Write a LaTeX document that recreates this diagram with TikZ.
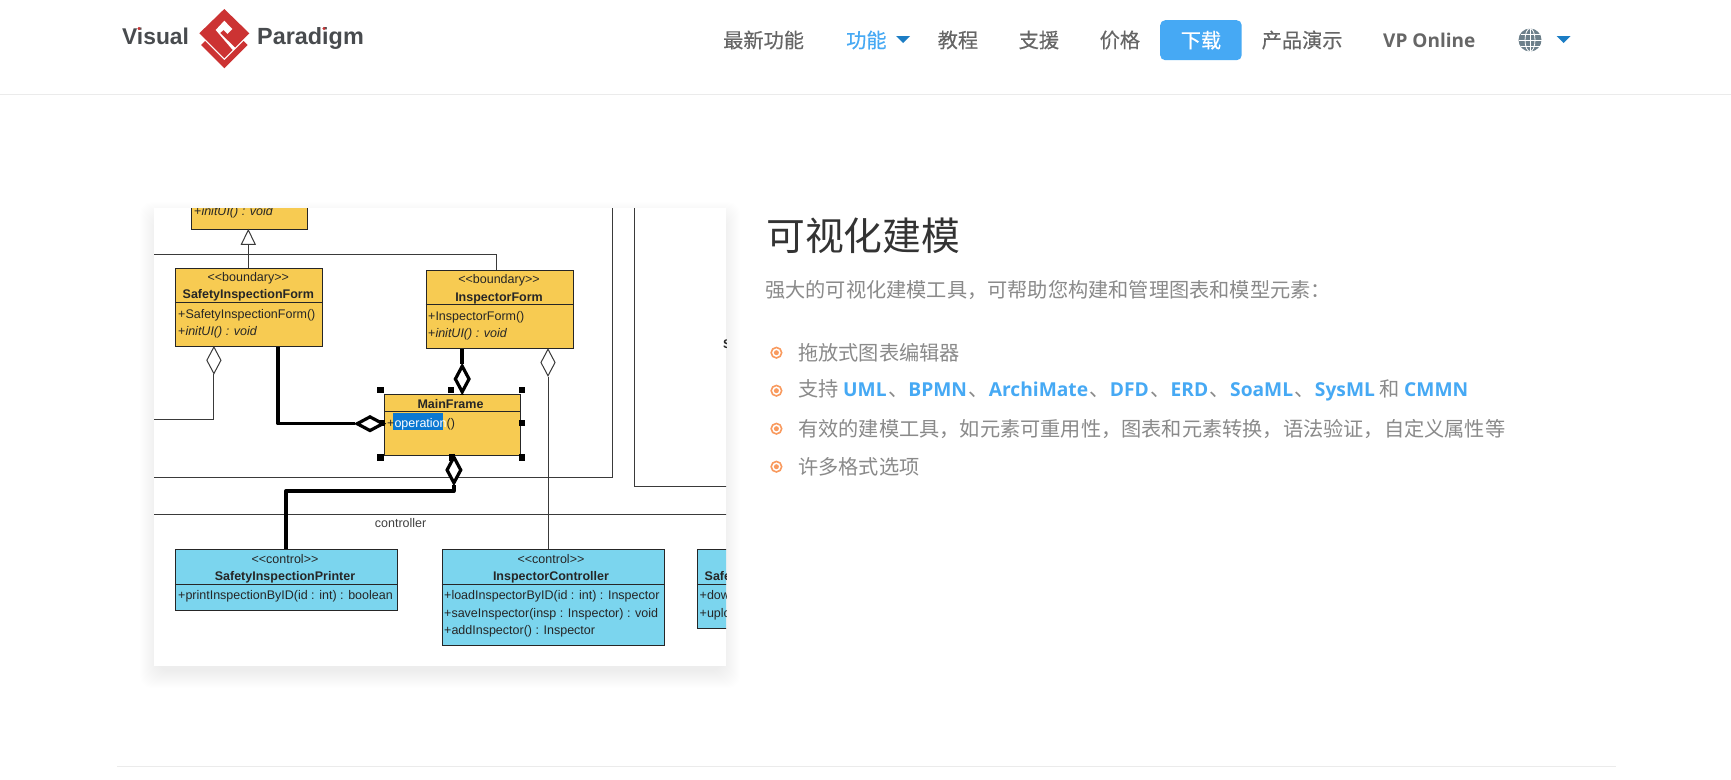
\documentclass[tikz,border=0pt]{standalone}
\usepackage{fontspec}
\setmainfont{Liberation Sans}
\newfontfamily\cjk{Noto Sans CJK SC}
\newfontfamily\cjknav{Noto Sans CJK SC}[FakeBold=0.35]
\newfontfamily\osemi{Open Sans}
\usetikzlibrary{shapes.geometric,calc}
\definecolor{navgrey}{HTML}{666666}
\definecolor{bodygrey}{HTML}{8A8A8A}
\definecolor{linkblue}{HTML}{46A9F4}
\definecolor{caretblue}{HTML}{1C7DC4}
\definecolor{rulegrey}{HTML}{EBEBEB}
\definecolor{logored}{HTML}{CC3333}
\definecolor{logogrey}{HTML}{484B4E}
\definecolor{umlyellow}{HTML}{F7CB52}
\definecolor{umlcyan}{HTML}{7BD5EE}
\definecolor{selblue}{HTML}{0A78D2}
\definecolor{thinline}{HTML}{3A3A3A}
\definecolor{bulletorange}{HTML}{F99A5E}
\definecolor{globegrey}{HTML}{6C7F8A}
\newcommand{\dfont}{\fontsize{12.5}{14}\selectfont}
\newcommand{\lk}[1]{{\osemi\bfseries\fontsize{19.2}{24}\selectfont\color{linkblue}#1}}
\newcommand{\dun}{\hspace{1.6pt}、}
\tikzset{
  x=1pt,y=-1pt,
  nav/.style={inner sep=0,text=navgrey,font=\cjknav\fontsize{20.2}{22}\selectfont},
  navlatin/.style={inner sep=0,text=navgrey,font=\osemi\bfseries\fontsize{19}{22}\selectfont},
  bodytxt/.style={inner sep=0,anchor=west,text=bodygrey,font=\cjk\fontsize{20.2}{24}\selectfont},
  ringdot/.style={circle,draw=bulletorange,line width=1.6pt,fill=white,minimum size=10.5pt,inner sep=0},
  coredot/.style={circle,fill=bulletorange,minimum size=5pt,inner sep=0},
  logotxt/.style={inner sep=0,anchor=base west,text=logogrey,font=\bfseries\fontsize{23.4}{24}\selectfont},
  umlbox/.style={draw=black!85,line width=1pt,inner sep=0,anchor=north west},
  yellowbox/.style={umlbox,fill=umlyellow},
  cyanbox/.style={umlbox,fill=umlcyan},
  dtxt/.style={inner sep=0,text=black!85,font=\dfont,yshift=-1.4pt},
  dname/.style={dtxt,font=\dfont\bfseries},
  dop/.style={dtxt,anchor=west},
  thinl/.style={draw=thinline,line width=1pt},
  thickl/.style={draw=black,line width=3.5pt,line join=round},
  hollowd/.style={diamond,draw=thinline,line width=1pt,fill=white,inner sep=0,minimum width=14.5pt,minimum height=27pt},
  boldd/.style={diamond,draw=black,line width=3.2pt,fill=white,inner sep=0,minimum width=15pt,minimum height=27pt},
  bolddh/.style={diamond,draw=black,line width=3.2pt,fill=white,inner sep=0,minimum width=27pt,minimum height=15pt},
  handle/.style={fill=black,inner sep=0,minimum size=6.5pt},
  caret/.style={fill=#1,draw=none}
}
\begin{document}
\begin{tikzpicture}
\useasboundingbox (0,0) rectangle (1731,779);
\fill[white] (0,0) rectangle (1731,779);
% header and footer rules
\fill[rulegrey] (0,94) rectangle (1731,95);
\fill[rulegrey] (117,766) rectangle (1616,767);
% logo
\node[logotxt,font=\bfseries\fontsize{22.8}{24}\selectfont] (logoa) at (122,44) {Visual};
\node[logotxt] (logob) at (257,44) {Paradigm};
\fill[logored] (139,28.5) circle (1.6);
\fill[logored] (324,28.5) circle (1.6);
\fill[logored] (224.3,9) -- (249.3,33.3) -- (224.3,58.3) -- (199.3,33.3) -- cycle;
\fill[white] (224.3,20.7) -- (232.3,29) -- (227.5,34) -- (223.5,30) -- (220,33) -- (236.5,49) -- (234,51.5) -- (215.7,30) -- cycle;
\fill[logored] (201,45) -- (205,41) -- (224.3,60.3) -- (243.6,41) -- (247.6,45) -- (224.3,68.3) -- cycle;
% navigation
\node[nav,anchor=west] (n1) at (723,40) {最新功能};
\node[nav,anchor=west,text=linkblue] (n2) at (846,40) {功能};
\fill[caret=caretblue] (896,36) -- (910,36) -- (903,43) -- cycle;
\node[nav,anchor=west] (n3) at (937.5,40) {教程};
\node[nav,anchor=west] (n4) at (1018.5,40) {支援};
\node[nav,anchor=west] (n5) at (1099.5,40) {价格};
\node[fill=linkblue,rounded corners=5pt,minimum width=81.5pt,minimum height=40pt,inner sep=0,anchor=north west] (dl) at (1160,20) {};
\node[nav,text=white] (dltxt) at (dl.center) {下载};
\node[nav,anchor=west] (n6) at (1261.5,40) {产品演示};
\node[navlatin,anchor=west] (n7) at (1383,40) {VP Online};
% globe
\fill[globegrey] (1530,40) circle (11.5);
\draw[white,line width=.8pt] (1530,40) ellipse (5 and 11.5);
\draw[white,line width=.8pt] (1530,28.5) -- (1530,51.5) (1518.5,40) -- (1541.5,40) (1520.5,34) -- (1539.5,34) (1520.5,46) -- (1539.5,46);
\fill[caret=caretblue] (1556.5,36) -- (1570.5,36) -- (1563.5,43) -- cycle;
% panel shadow
\foreach \i in {1,...,18}{
  \fill[black,opacity=.0055,rounded corners=12pt] ({154-\i+4},{208+8-\i+4}) rectangle ({726+\i-4},{666+8+\i-4});
}
\fill[white] (154,208) rectangle (726,666);
\begin{scope}
\clip (154,208) rectangle (726,666);
% package frames
\draw[thinl] (154,477.7) -- (612.3,477.7) -- (612.3,200);
\draw[thinl] (634.8,200) -- (634.8,486.7) -- (730,486.7);
\draw[thinl] (154,514.3) -- (730,514.3);
\node[dtxt,yshift=1.4pt,text=black!75] (ctl) at (400.6,523.3) {controller};
\node[dname,anchor=west] (stray) at (723,343) {S};
% class boxes
\node[yellowbox,minimum width=115.6pt,minimum height=31.3pt] (base) at (191.3,198) {};
\node[yellowbox,minimum width=147pt,minimum height=78.3pt] (sif) at (174.8,267.7) {};
\node[yellowbox,minimum width=147pt,minimum height=78.3pt] (if) at (425.5,270) {};
\node[yellowbox,minimum width=135.4pt,minimum height=60.7pt] (mf) at (384.2,394) {};
\node[cyanbox,minimum width=222.4pt,minimum height=61pt] (sip) at (174.8,549.3) {};
\node[cyanbox,minimum width=222.4pt,minimum height=95.4pt] (ic) at (441.6,549.3) {};
\node[cyanbox,minimum width=120pt,minimum height=78.4pt] (third) at (696.8,549.3) {};
% compartment dividers
\draw[umlbox] (sif.west |- 0,302.3) -- (sif.east |- 0,302.3);
\draw[umlbox] (if.west |- 0,304.7) -- (if.east |- 0,304.7);
\draw[umlbox] (mf.west |- 0,411) -- (mf.east |- 0,411);
\draw[umlbox] (sip.west |- 0,584.3) -- (sip.east |- 0,584.3);
\draw[umlbox] (ic.west |- 0,584.3) -- (ic.east |- 0,584.3);
\draw[umlbox] (third.west |- 0,584.3) -- (third.east |- 0,584.3);
% hollow association diamonds
\node[hollowd] (d1) at (213.9,360.3) {};
\node[hollowd] (d2) at (548,362.5) {};
\draw[thinl] (d1.south) -- (d1.south |- 0,419) -- (154,419);
\draw[thinl] (d2.south) -- (d2.south |- ic.north);
% generalization
\coordinate (tipa) at (248.3,230);
\fill[white,draw=thinline,line width=1pt] (tipa) -- (255.2,244.3) -- (241.4,244.3) -- cycle;
\coordinate (tribase) at (248.3,244.3);
\draw[thinl] (tribase) -- (tribase |- sif.north);
\draw[thinl] (154,254) -- (496.7,254) -- (496.7,0 |- if.north);
% bold associations
\node[boldd] (d3) at (462.2,379) {};
\node[boldd] (d4) at (453.9,470) {};
\node[bolddh] (d5) at (370,423.7) {};
\draw[thickl] (278.2,0 |- sif.south) -- (278.2,423.7) -- (d5.west);
\draw[thickl] (d5.east) -- (mf.west |- d5.east);
\draw[thickl] (d3.north |- if.south) -- (d3.north);
\draw[thickl] (d3.south) -- (d3.south |- mf.north);
\draw[thickl] (d4.south) -- (d4.south |- 0,491) -- (285.8,491) -- (285.8,0 |- sip.north);
% selection handles
\node[handle] (h1) at (380.3,390) {};
\node[handle] (h2) at (451,390) {};
\node[handle] (h3) at (522,390) {};
\node[handle] (h4) at (522,423) {};
\node[handle] (h5) at (380.3,457.7) {};
\node[handle] (h6) at (452,457.7) {};
\node[handle] (h7) at (522,457.7) {};
\node[handle] (h8) at (382,423) {};
% selected text
\fill[selblue] (393,413.3) rectangle (443,430);
% class texts
\node[dop] (t0) at (194,210.5) {+\textit{initUI() : void}};
\node[dtxt] (t1) at (248.3,276.7) {<{}<boundary>{}>};
\node[dname] (t2) at (248.3,294.3) {SafetyInspectionForm};
\node[dop] (t3) at (178,313.7) {+SafetyInspectionForm()};
\node[dop] (t4) at (178,330.7) {+\textit{initUI() : void}};
\node[dtxt] (t5) at (499,279.3) {<{}<boundary>{}>};
\node[dname] (t6) at (499,296.7) {InspectorForm};
\node[dop] (t7) at (428,316) {+InspectorForm()};
\node[dop] (t8) at (428,333) {+\textit{initUI() : void}};
\node[dname] (t9) at (450.5,403) {MainFrame};
\node[dop] (t10) at (387,422.7) {+\textcolor{white}{operation}()};
\node[dtxt] (t11) at (285,557.5) {<{}<control>{}>};
\node[dname] (t12) at (285,575.7) {SafetyInspectionPrinter};
\node[dop] (t13) at (178,595.3) {+printInspectionByID(id : int) : boolean};
\node[dtxt] (t14) at (551,557.5) {<{}<control>{}>};
\node[dname] (t15) at (551,575.7) {InspectorController};
\node[dop] (t16) at (444,595.3) {+loadInspectorByID(id : int) : Inspector};
\node[dop] (t17) at (444,612.7) {+saveInspector(insp : Inspector) : void};
\node[dop] (t18) at (444,629.7) {+addInspector() : Inspector};
\node[dname,anchor=west] (t19) at (704.5,575.7) {SafetyInspection};
\node[dop] (t20) at (699.5,595.3) {+downloadInspection};
\node[dop] (t21) at (699.5,612.7) {+uploadInspection};
\end{scope}
% right column
\node[inner sep=0,anchor=west,text=black!80,font=\cjk\fontsize{38.8}{44}\selectfont] (title) at (766,236) {可视化建模};
\node[bodytxt] (sub) at (765,290) {强大的可视化建模工具，可帮助您构建和管理图表和模型元素：};
\node[ringdot] (b1) at (776.4,352.7) {};
\node[coredot] (c1) at (b1.center) {};
\node[ringdot] (b2) at (776.4,390.7) {};
\node[coredot] (c2) at (b2.center) {};
\node[ringdot] (b3) at (776.4,428.7) {};
\node[coredot] (c3) at (b3.center) {};
\node[ringdot] (b4) at (776.4,466.7) {};
\node[coredot] (c4) at (b4.center) {};
\node[bodytxt] (l1) at (798,352.7) {拖放式图表编辑器};
\node[bodytxt] (l2) at (798,390.7) {支持 \lk{UML}\dun\lk{BPMN}\dun\lk{ArchiMate}\dun\lk{DFD}\dun\lk{ERD}\dun\lk{SoaML}\dun\lk{SysML} 和 \lk{CMMN}};
\node[bodytxt] (l3) at (798,428.7) {有效的建模工具，如元素可重用性，图表和元素转换，语法验证，自定义属性等};
\node[bodytxt] (l4) at (798,466.7) {许多格式选项};
\end{tikzpicture}
\end{document}
